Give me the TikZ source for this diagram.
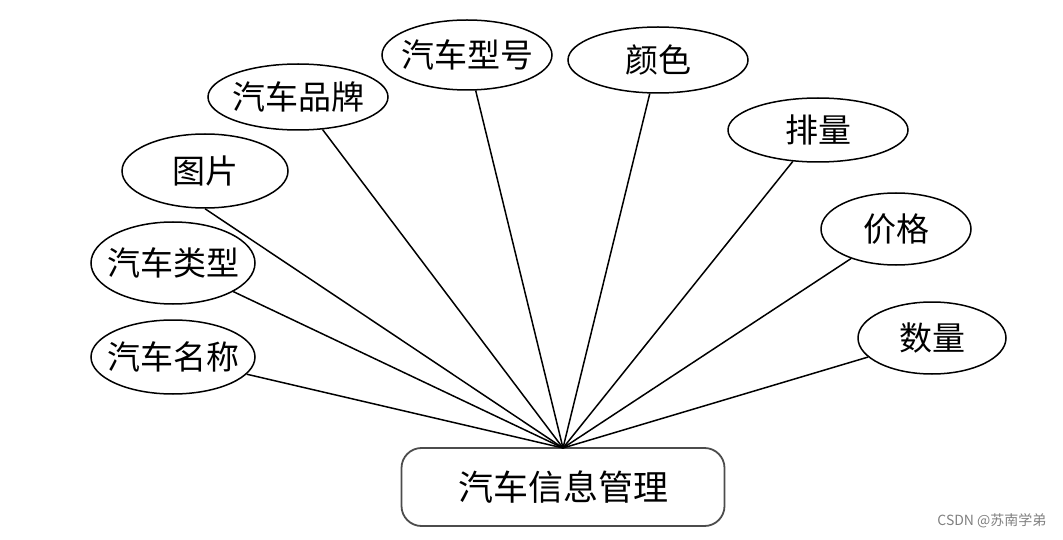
\documentclass[tikz,border=0pt]{standalone}
\usepackage{fontspec}
\newfontfamily\cjk{Noto Sans CJK SC}
\usetikzlibrary{shapes.geometric}
\begin{document}
\begin{tikzpicture}[x=1pt,y=-1pt,
  attr/.style={draw,line width=1.5pt,ellipse,inner xsep=-22pt,inner ysep=-10pt,font=\cjk\fontsize{33}{33}\selectfont},
  ent/.style={draw=black!70,line width=1.8pt,rounded corners=20pt,minimum width=323pt,minimum height=78pt,font=\cjk\fontsize{35}{35}\selectfont},
  link/.style={line width=1.5pt}]
\useasboundingbox (0,0) rectangle (1063,540);
\node[ent] (m) at (563,487) {汽车信息管理};
\coordinate (hub) at (563,448);
\node[attr,minimum width=170pt,minimum height=70pt] (a1) at (467,55) {汽车型号};
\node[attr,minimum width=180pt,minimum height=66pt] (a2) at (658,60) {颜色};
\node[attr,minimum width=180pt,minimum height=66pt] (a3) at (298,97) {汽车品牌};
\node[attr,minimum width=180pt,minimum height=64pt] (a4) at (818,130) {排量};
\node[attr,minimum width=166pt,minimum height=74pt] (a5) at (205,171) {图片};
\node[attr,minimum width=150pt,minimum height=72pt] (a6) at (896,229) {价格};
\node[attr,minimum width=164pt,minimum height=82pt] (a7) at (173,263) {汽车类型};
\node[attr,minimum width=148pt,minimum height=72pt] (a8) at (932,338) {数量};
\node[attr,minimum width=164pt,minimum height=74pt] (a9) at (173,357) {汽车名称};
\foreach \n in {a1,a2,a3,a4,a6,a7,a8,a9} \draw[link] (hub) -- (\n);
\draw[link] (hub) -- (a5.south);
\node[text=gray,font=\cjk\fontsize{14}{14}\selectfont,anchor=east] (wm) at (1050,521) {CSDN @苏南学弟};
\end{tikzpicture}
\end{document}
